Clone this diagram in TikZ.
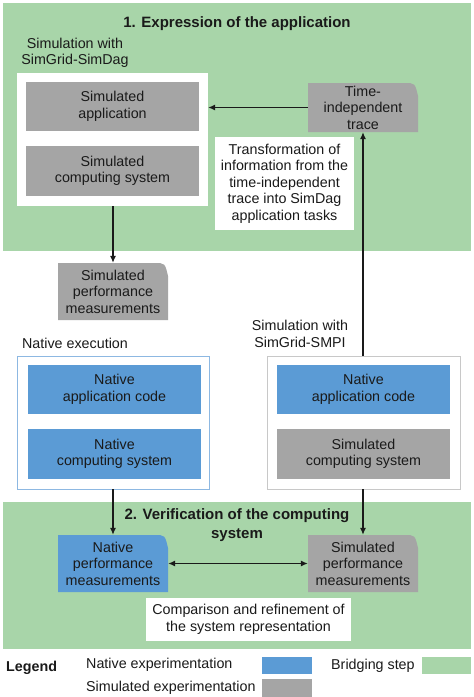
\documentclass[tikz,border=0pt]{standalone}
\usepackage{fontspec}
\setmainfont{Liberation Sans}
\usetikzlibrary{arrows.meta}
\definecolor{brgreen}{HTML}{A8D5A9}
\definecolor{natblue}{HTML}{5B9BD5}
\definecolor{simgray}{HTML}{A5A5A5}
\definecolor{lblue}{HTML}{8DB8E2}
\definecolor{lgray}{HTML}{C8C8C8}
\definecolor{txt}{HTML}{1A1A1A}
\begin{document}
\begin{tikzpicture}[x=1pt,y=-1pt,
  every node/.style={text=txt,font=\fontsize{14.3}{16.5}\selectfont},
  region/.style={fill=brgreen,draw=none},
  frame/.style={fill=white,inner sep=0pt},
  blk/.style={fill=#1,inner sep=0pt,align=center},
  doc/.style={inner sep=0pt,align=center,
    path picture={\fill[#1] (path picture bounding box.south west) -- (path picture bounding box.north west) -- ([xshift=-14pt]path picture bounding box.north east) .. controls ([xshift=-3pt]path picture bounding box.north east) .. ([yshift=-13pt]path picture bounding box.north east) -- (path picture bounding box.south east) -- cycle;}},
  lbl/.style={align=center,inner sep=0pt},
  ttl/.style={align=center,inner sep=0pt,font=\fontsize{15}{19}\selectfont\bfseries},
  conn/.style={draw=txt,line width=1.1pt,-{Latex[length=7pt,width=6pt]}},
  conn2/.style={draw=txt,line width=1.1pt,{Latex[length=7pt,width=6pt]}-{Latex[length=7pt,width=6pt]}}
]
\useasboundingbox (0,0) rectangle (474,697);
\fill[white] (0,0) rectangle (474,697);

% bridging regions
\node[region,minimum width=468pt,minimum height=248pt,inner sep=0pt] (g1) at (237,127) {};
\node[region,minimum width=468pt,minimum height=147pt,inner sep=0pt] (g2) at (237,575.5) {};

% titles
\node[ttl] (t1) at (237,24) {1. Expression of the application};
\node[ttl] (t2) at (237,525) {2. Verification of the computing\\system};

% SimDag block
\node[lbl] (l1) at (75,53) {Simulation with\\SimGrid-SimDag};
\node[frame,minimum width=191pt,minimum height=133pt] (simdag) at (112.5,139.5) {};
\node[blk=simgray,minimum width=173pt,minimum height=49pt] (simapp) at (112.5,106.5) {Simulated\\application};
\node[blk=simgray,minimum width=173pt,minimum height=50pt] (simcomp) at (112.5,171) {Simulated\\computing system};

% trace
\node[doc=simgray,minimum width=110pt,minimum height=49pt] (trace) at (363,107.5) {Time-\\independent\\trace};
\node[fill=white,inner sep=0pt,minimum width=139pt,minimum height=93pt,align=center] (transf) at (284.5,183.5) {Transformation of\\information from the\\time-independent\\trace into SimDag\\application tasks};

% simulated perf (middle)
\node[doc=simgray,minimum width=110pt,minimum height=57pt] (simperf) at (113,291.5) {Simulated\\performance\\measurements};

% native execution
\node[lbl] (l2) at (75,343) {Native execution};
\node[frame,draw=lblue,line width=0.8pt,minimum width=192pt,minimum height=133pt] (native) at (113,422.5) {};
\node[blk=natblue,minimum width=173pt,minimum height=49pt] (natapp) at (114.5,389.5) {Native\\application code};
\node[blk=natblue,minimum width=173pt,minimum height=50pt] (natcomp) at (114.5,454) {Native\\computing system};

% SMPI
\node[lbl] (l3) at (300,334) {Simulation with\\SimGrid-SMPI};
\node[frame,draw=lgray,line width=0.8pt,minimum width=193pt,minimum height=133pt] (smpi) at (363.5,422.5) {};
\node[blk=natblue,minimum width=173pt,minimum height=49pt] (smpiapp) at (363.5,389.5) {Native\\application code};
\node[blk=simgray,minimum width=173pt,minimum height=50pt] (smpicomp) at (363.5,454) {Simulated\\computing system};

% performance measurements (bottom)
\node[doc=natblue,minimum width=110pt,minimum height=57pt] (natperf) at (113,563.5) {Native\\performance\\measurements};
\node[doc=simgray,minimum width=110pt,minimum height=57pt] (simperf2) at (363,563.5) {Simulated\\performance\\measurements};
\node[fill=white,inner sep=0pt,minimum width=205pt,minimum height=43pt,align=center] (compar) at (248.5,619.5) {Comparison and refinement of\\the system representation};

% connectors
\draw[conn] (trace.west) -- (trace.west -| simdag.east);
\draw[conn] (smpi.north -| trace.south) -- (trace.south);
\draw[conn] (simdag.south -| simperf.north) -- (simperf.north);
\draw[conn] (native.south) -- (natperf.north);
\draw[conn] (smpi.south -| simperf2.north) -- (simperf2.north);
\draw[conn2] (natperf.east) -- (simperf2.west);

% legend
\node[anchor=west,inner sep=0pt,font=\fontsize{14.3}{16.5}\selectfont\bfseries] (leg) at (6,668) {Legend};
\node[anchor=west,inner sep=0pt] (lnat) at (86,665) {Native experimentation};
\node[anchor=west,inner sep=0pt] (lsim) at (86,688) {Simulated experimentation};
\node[anchor=west,inner sep=0pt] (lbr) at (331,666) {Bridging step};
\node[fill=natblue,inner sep=0pt,minimum width=50pt,minimum height=17pt] (swb) at (287,665.5) {};
\node[fill=simgray,inner sep=0pt,minimum width=50pt,minimum height=18pt] (swg) at (287,688) {};
\node[fill=brgreen,inner sep=0pt,minimum width=49pt,minimum height=17pt] (swgr) at (446.5,665.5) {};
\end{tikzpicture}
\end{document}
